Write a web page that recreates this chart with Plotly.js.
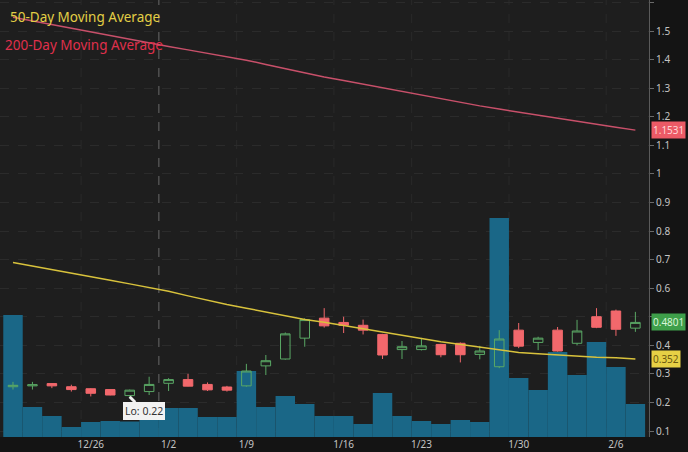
<!DOCTYPE html>
<html>
<head>
<meta charset="utf-8">
<script src="https://cdn.plot.ly/plotly-3.0.1.min.js"></script>
<style>
html,body{margin:0;padding:0;background:#141414;}
#chart{width:688px;height:452px;}
</style>
</head>
<body>
<div id="chart"></div>
<script>
// ---- data ----
const dates = ['2022-12-20','2022-12-21','2022-12-22','2022-12-23','2022-12-27','2022-12-28','2022-12-29','2022-12-30',
  '2023-01-03','2023-01-04','2023-01-05','2023-01-06','2023-01-09','2023-01-10','2023-01-11','2023-01-12','2023-01-13',
  '2023-01-17','2023-01-18','2023-01-19','2023-01-20','2023-01-23','2023-01-24','2023-01-25','2023-01-26','2023-01-27',
  '2023-01-30','2023-01-31','2023-02-01','2023-02-02','2023-02-03','2023-02-06','2023-02-07'];
const openP  = [0.255,0.258,0.266,0.255,0.248,0.245,0.224,0.238,0.267,0.280,0.263,0.254,0.258,0.328,0.352,0.425,0.495,
  0.480,0.470,0.438,0.385,0.385,0.403,0.407,0.368,0.325,0.453,0.410,0.453,0.407,0.500,0.520,0.460];
const highP  = [0.272,0.272,0.268,0.262,0.250,0.246,0.245,0.290,0.285,0.300,0.270,0.258,0.335,0.366,0.445,0.495,0.530,
  0.500,0.490,0.440,0.415,0.426,0.405,0.410,0.398,0.453,0.478,0.430,0.464,0.489,0.530,0.525,0.517];
const lowP   = [0.245,0.245,0.250,0.238,0.221,0.225,0.220,0.226,0.240,0.256,0.240,0.238,0.255,0.296,0.350,0.395,0.462,
  0.443,0.438,0.352,0.352,0.382,0.358,0.340,0.351,0.320,0.390,0.383,0.378,0.400,0.460,0.433,0.447];
const closeP = [0.260,0.262,0.258,0.245,0.232,0.226,0.243,0.263,0.280,0.257,0.244,0.243,0.310,0.346,0.440,0.490,0.468,
  0.470,0.453,0.366,0.395,0.398,0.367,0.367,0.380,0.422,0.397,0.425,0.380,0.450,0.463,0.456,0.4801];
const volumeK = [1220,300,210,100,150,160,155,220,290,290,200,200,660,300,410,330,210,210,130,440,210,160,130,170,150,
  2190,590,470,850,620,950,700,330];
const ma50  = [0.690,0.678,0.665,0.653,0.640,0.628,0.615,0.602,0.589,0.573,0.557,0.543,0.530,0.516,0.503,0.490,0.481,
  0.470,0.459,0.448,0.436,0.424,0.412,0.403,0.394,0.385,0.375,0.370,0.366,0.361,0.358,0.356,0.352];
const ma200 = [1.548,1.535,1.522,1.510,1.497,1.484,1.471,1.459,1.446,1.434,1.422,1.410,1.398,1.383,1.368,1.354,1.339,
  1.327,1.314,1.302,1.289,1.276,1.264,1.251,1.238,1.227,1.216,1.205,1.194,1.184,1.173,1.163,1.1531];
const tickDates  = ['2022-12-27','2023-01-03','2023-01-09','2023-01-17','2023-01-23','2023-01-30','2023-02-06'];
const tickLabels = ['12/26','1/2','1/9','1/16','1/23','1/30','2/6'];
const priceTicks = [0.1,0.2,0.3,0.4,0.5,0.6,0.7,0.8,0.9,1.0,1.1,1.2,1.3,1.4,1.5,1.6];
const priceTickText = ['0.1','0.2','0.3','0.4','','0.6','0.7','0.8','0.9','1','1.1','1.2','1.3','1.4','1.5','1.6'];
const yearStart = '2023-01-03';
const lowLabel = {date:'2022-12-29', value:0.22, text:'Lo: 0.22'};

// ---- colors ----
const UP = '#5aa865', DOWN = '#f2686c', VOL = '#1a6787';
const YEL = '#d8c23c', PINK = '#c8506a';

const traces = [
  {type:'bar', x:dates, y:volumeK, xaxis:'x', yaxis:'y', width:1,
   marker:{color:VOL, line:{width:0}}, hoverinfo:'skip'},
  {type:'scatter', mode:'lines', x:dates, y:ma200, xaxis:'x', yaxis:'y2',
   line:{color:PINK, width:1.5}, hoverinfo:'skip'},
  {type:'scatter', mode:'lines', x:dates, y:ma50, xaxis:'x', yaxis:'y2',
   line:{color:YEL, width:1.5}, hoverinfo:'skip'},
  {type:'candlestick', x:dates, open:openP, high:highP, low:lowP, close:closeP, xaxis:'x', yaxis:'y2',
   increasing:{line:{color:UP, width:1}, fillcolor:'rgba(0,0,0,0)'},
   decreasing:{line:{color:DOWN, width:1}, fillcolor:DOWN},
   whiskerwidth:0, hoverinfo:'skip'}
];

const idx = d => dates.indexOf(d);
const shapes = [];
tickDates.forEach(d => {
  if (d === yearStart) return;
  shapes.push({type:'line', xref:'x', yref:'paper', x0:idx(d)-0.5, x1:idx(d)-0.5, y0:0, y1:1,
    line:{color:'#2a2a2a', width:1, dash:'dash'}, layer:'below'});
});
shapes.push({type:'line', xref:'x', yref:'paper', x0:idx(yearStart)-0.5, x1:idx(yearStart)-0.5, y0:0, y1:1,
  line:{color:'#6a6a6a', width:1, dash:'dash'}, layer:'below'});

const last = closeP.length - 1;
const annotations = [
  {xref:'paper', yref:'paper', x:0.012, y:0.962, xanchor:'left', yanchor:'middle', showarrow:false,
   text:'50-Day Moving Average', font:{family:'Noto Sans', size:13.5, color:'#e3cf45'}},
  {xref:'paper', yref:'paper', x:0.005, y:0.897, xanchor:'left', yanchor:'middle', showarrow:false,
   text:'200-Day Moving Average', font:{family:'Noto Sans', size:13.5, color:'#e0304c'}},
  {xref:'paper', yref:'y2', x:1.003, y:ma200[last], xanchor:'left', yanchor:'middle', showarrow:false,
   text:ma200[last].toFixed(4), bgcolor:'#ec5a66', borderpad:1, font:{family:'Noto Sans', size:10, color:'#ffd6d8'}},
  {xref:'paper', yref:'y2', x:1.003, y:closeP[last], xanchor:'left', yanchor:'middle', showarrow:false,
   text:closeP[last].toFixed(4), bgcolor:'#3e9f4a', borderpad:1, font:{family:'Noto Sans', size:10, color:'#d8f5d8'}},
  {xref:'paper', yref:'y2', x:1.003, y:ma50[last], xanchor:'left', yanchor:'middle', showarrow:false,
   text:ma50[last].toFixed(3), bgcolor:'#e6d045', borderpad:1, font:{family:'Noto Sans', size:10, color:'#6b5a10'}},
  {xref:'x', yref:'y2', x:lowLabel.date, y:lowLabel.value, text:lowLabel.text, showarrow:true,
   arrowhead:0, arrowwidth:3, arrowcolor:'#f2f2f2', ax:14, ay:14, standoff:0,
   bgcolor:'#f2f2f2', bordercolor:'#f2f2f2', borderpad:1,
   font:{family:'Noto Sans', size:10.5, color:'#333'}}
];

const layout = {
  width:688, height:452,
  margin:{l:0, r:39, t:0, b:15, pad:0},
  paper_bgcolor:'#141414', plot_bgcolor:'#1e1e1e',
  showlegend:false, hovermode:false,
  xaxis:{type:'category', range:[-0.668, 32.7], rangeslider:{visible:false},
    tickvals:tickDates, ticktext:tickLabels, showgrid:false, zeroline:false,
    ticks:'', ticklen:0, showline:false,
    tickfont:{family:'Noto Sans', size:10, color:'#c4c4c4'}},
  yaxis:{range:[0, 4370], visible:false, showgrid:false, fixedrange:true},
  yaxis2:{overlaying:'y', side:'right', range:[0.079, 1.6086],
    tickmode:'array', tickvals:priceTicks, ticktext:priceTickText,
    showgrid:true, gridcolor:'#2b2b2b', griddash:'dash', gridwidth:1, zeroline:false,
    showline:true, linecolor:'#5a5a5a', linewidth:1,
    ticks:'outside', ticklen:4, tickcolor:'#6a6a6a',
    tickfont:{family:'Noto Sans', size:10, color:'#c4c4c4'}},
  shapes:shapes,
  annotations:annotations
};

Plotly.newPlot('chart', traces, layout, {displayModeBar:false, staticPlot:true});
</script>
</body>
</html>
